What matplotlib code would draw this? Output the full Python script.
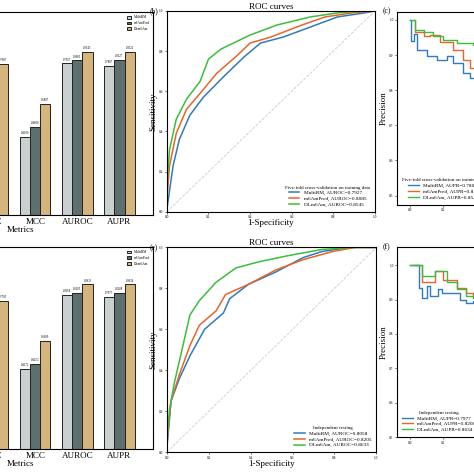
import matplotlib
matplotlib.use("Agg")
import matplotlib.pyplot as plt
import numpy as np

plt.rcParams['font.family'] = ['Liberation Serif', 'DejaVu Serif']

metrics = ["SN", "SP", "ACC", "MCC", "AUROC", "AUPR"]
methods = ["MultiRM", "m6AmPred", "DLm6Am"]
bar_colors = ["#c9d1d0", "#5e6f70", "#d6b47e"]
train_vals = [[0.75, 0.70, 0.7050, 0.4100, 0.7927, 0.7807],
              [0.76, 0.72, 0.7400, 0.4600, 0.8085, 0.8127],
              [0.80, 0.77, 0.7907, 0.5807, 0.8545, 0.8522]]
test_vals = [[0.74, 0.70, 0.7100, 0.4172, 0.8058, 0.7977],
             [0.75, 0.71, 0.7300, 0.4472, 0.8205, 0.8208],
             [0.79, 0.76, 0.7785, 0.5689, 0.8633, 0.8634]]

# ROC curves
roc_b = {
 "MultiRM": ([0,0.03,0.06,0.11,0.175,0.27,0.37,0.45,0.56,0.69,0.82,0.95,1],
             [0.01,0.23,0.36,0.48,0.57,0.67,0.77,0.84,0.87,0.92,0.97,0.99,1]),
 "m6AmPred": ([0,0.013,0.045,0.094,0.16,0.24,0.34,0.4,0.5,0.65,0.76,0.89,1],
              [0.06,0.23,0.39,0.51,0.59,0.69,0.78,0.84,0.87,0.93,0.97,0.99,1]),
 "DLm6Am": ([0,0.013,0.045,0.094,0.16,0.2,0.26,0.34,0.4,0.53,0.69,0.82,0.95,1],
            [0.13,0.31,0.46,0.56,0.65,0.76,0.81,0.85,0.88,0.93,0.97,0.99,1.0,1]),
}
roc_e = {
 "MultiRM": ([0,0.02,0.06,0.11,0.18,0.27,0.3,0.39,0.52,0.65,0.74,0.87,1],
             [0.02,0.25,0.36,0.47,0.60,0.68,0.75,0.82,0.88,0.95,0.98,1.0,1]),
 "m6AmPred": ([0,0.02,0.06,0.11,0.155,0.235,0.28,0.39,0.52,0.65,0.79,0.9,1],
              [0.04,0.25,0.38,0.52,0.62,0.69,0.77,0.82,0.89,0.94,0.98,1.0,1]),
 "DLm6Am": ([0,0.013,0.036,0.07,0.11,0.155,0.235,0.33,0.44,0.58,0.74,0.9,1],
            [0.05,0.21,0.34,0.49,0.67,0.74,0.83,0.90,0.93,0.96,0.99,1.0,1]),
}
roc_b_auc = [0.7927, 0.8085, 0.8545]
roc_e_auc = [0.8058, 0.8205, 0.8633]

pr_c = {
 "MultiRM": ([0,0.005,0.02,0.04,0.1,0.16,0.22,0.26,0.32,0.36,0.45],
             [1.0,0.94,0.96,0.915,0.896,0.886,0.896,0.877,0.85,0.834,0.834]),
 "m6AmPred": ([0.02,0.03,0.08,0.12,0.18,0.26,0.32,0.36,0.45],
              [1.0,0.967,0.953,0.957,0.938,0.915,0.886,0.863,0.863]),
 "DLm6Am": ([0,0.03,0.03,0.08,0.14,0.2,0.28,0.38,0.45],
            [1.0,1.0,0.97,0.967,0.953,0.943,0.934,0.93,0.93]),
}
pr_f = {
 "MultiRM": ([0,0.05,0.05,0.07,0.1,0.12,0.17,0.19,0.24,0.3,0.34,0.38,0.45],
             [1.0,1.0,0.935,0.904,0.94,0.91,0.93,0.92,0.92,0.9,0.89,0.896,0.89]),
 "m6AmPred": ([0.02,0.07,0.07,0.15,0.2,0.28,0.34,0.38,0.45],
              [1.0,1.0,0.95,0.983,0.957,0.935,0.92,0.905,0.90]),
 "DLm6Am": ([0,0.07,0.07,0.15,0.22,0.28,0.34,0.38,0.45],
            [1.0,1.0,0.97,0.983,0.95,0.93,0.91,0.905,0.90]),
}
pr_c_auc = ["0.7807", "0.8127", "0.8522"]
pr_f_auc = ["0.7977", "0.8208", "0.8634"]
line_colors = ["#2f7bbf", "#e8642a", "#3cbd3c"]

fig = plt.figure(figsize=(4.74, 4.74), dpi=100)

def bars(rect, vals, panel):
    ax = fig.add_axes(rect)
    x = np.arange(len(metrics))
    w = 0.24
    for i in range(3):
        ax.bar(x + (i - 1) * w, vals[i], w, color=bar_colors[i], edgecolor="#222222",
               linewidth=0.7, label=methods[i])
        for xi, v in zip(x + (i - 1) * w, vals[i]):
            ax.text(xi, v + 0.01, f"{v:.4f}", ha="center", va="bottom", fontsize=2.2)
    ax.set_xlim(-0.5, 5.8)
    ax.set_ylim(0, 1.06)
    ax.set_xticks(x)
    ax.set_xticklabels(metrics, fontsize=6.5)
    ax.tick_params(axis="x", length=0, pad=2)
    ax.set_yticks([])
    ax.set_xlabel("Metrics", fontsize=6.5, labelpad=0)
    ax.legend(loc="upper right", fontsize=2.5, frameon=False, handlelength=1.2, handleheight=0.8)

def roc(rect, data, aucs, label, panel):
    ax = fig.add_axes(rect)
    for i, m in enumerate(methods):
        xs, ys = data[m]
        ax.plot(xs, ys, color=line_colors[i], lw=1.1,
                label=f"{m}, AUROC={aucs[i]:.4f}")
    ax.plot([0, 1], [0, 1], ls="--", color="#cccccc", lw=0.6)
    ax.set_xlim(0, 1); ax.set_ylim(0, 1)
    ticks = [0, 0.2, 0.4, 0.6, 0.8, 1.0]
    ax.set_xticks(ticks); ax.set_yticks(ticks)
    ax.set_xticklabels([f"{t:.1f}" for t in ticks], fontsize=2.5)
    ax.set_yticklabels([f"{t:.1f}" for t in ticks], fontsize=2.5)
    ax.tick_params(length=1.5, width=0.4, pad=1)
    ax.set_title("ROC curves", fontsize=6.5, pad=1)
    ax.set_xlabel("1-Specificity", fontsize=6.5, labelpad=0)
    ax.set_ylabel("Sensitivity", fontsize=6.5, labelpad=1)
    ax.legend(loc="lower right", title=label, fontsize=3.8, title_fontsize=3.6,
              frameon=False, handlelength=2, labelspacing=0.2)
    fig.text(rect[0] - 0.037, rect[1] + rect[3] - 0.005, panel, fontsize=5.5)

def pr(rect, data, aucs, ylim, label, panel):
    ax = fig.add_axes(rect)
    for i, m in enumerate(methods):
        xs, ys = data[m]
        ax.step(xs, ys, where="post", color=line_colors[i], lw=1.0,
                label=f"{m}, AUPR={aucs[i]}")
    ax.set_xlim(-0.08, 1.05); ax.set_ylim(*ylim)
    ax.set_xticks([0, 0.2, 0.4, 0.6, 0.8, 1.0])
    ax.set_xticklabels(["0.0", "0.2", "0.4", "0.6", "0.8", "1.0"], fontsize=2.5)
    yt = [0.5, 0.6, 0.7, 0.8, 0.9, 1.0]
    ax.set_yticks(yt); ax.set_yticklabels([f"{t:.1f}" for t in yt], fontsize=2.5)
    ax.tick_params(length=1.5, width=0.4, pad=1)
    ax.set_ylabel("Precision", fontsize=6.5, labelpad=1)
    ax.legend(loc="lower left", title=label, fontsize=3.8, title_fontsize=3.6,
              frameon=False, handlelength=2, labelspacing=0.2)
    fig.text(rect[0] - 0.03, rect[1] + rect[3] - 0.003, panel, fontsize=5.5)

bars([-0.236, 0.546, 0.559, 0.428], train_vals, "(a)")
bars([-0.236, 0.053, 0.559, 0.426], test_vals, "(d)")
roc([0.352, 0.553, 0.439, 0.424], roc_b, roc_b_auc,
    "Five-fold cross-validation on training data", "(b)")
roc([0.352, 0.046, 0.442, 0.432], roc_e, roc_e_auc,
    "Independent testing", "(e)")
pr([0.838, 0.568, 0.393, 0.407], pr_c, pr_c_auc, (0.474, 1.023),
   "Five-fold cross-validation on training data", "(c)")
pr([0.838, 0.078, 0.393, 0.40], pr_f, pr_f_auc, (0.555, 1.052),
   "Independent testing", "(f)")

fig.savefig("out.png", dpi=100)
